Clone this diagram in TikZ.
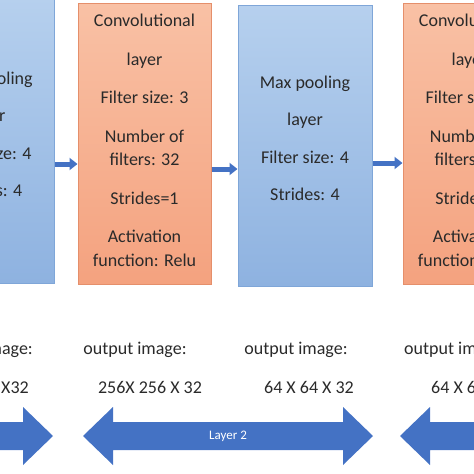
\documentclass[tikz,border=0pt]{standalone}
\usepackage{fontspec}
\setmainfont{Carlito}
\usetikzlibrary{arrows.meta,positioning,calc}
\definecolor{cnInk}     {HTML}{2A2A2A}
\definecolor{cnPoolTop} {HTML}{B6D0EE}
\definecolor{cnPoolBot} {HTML}{8EB2E0}
\definecolor{cnPoolLine}{HTML}{7FA6D8}
\definecolor{cnConvTop} {HTML}{F9C1A5}
\definecolor{cnConvBot} {HTML}{F4A27F}
\definecolor{cnConvLine}{HTML}{E58F6B}
\definecolor{cnArrow}   {HTML}{4472C4}

\begin{document}
\begin{tikzpicture}[x=1pt,y=-1pt,
    poolbox/.style={rectangle,draw=cnPoolLine,line width=1pt,top color=cnPoolTop,
      bottom color=cnPoolBot,minimum width=134pt,minimum height=281pt,inner sep=0},
    convbox/.style={rectangle,draw=cnConvLine,line width=1pt,top color=cnConvTop,
      bottom color=cnConvBot,minimum width=133pt,minimum height=281pt,inner sep=0},
    boxtext/.style={align=center,text=cnInk,inner sep=0,
      font=\fontsize{18}{23.5}\selectfont},
    outtext/.style={text=cnInk,inner sep=0,font=\fontsize{18}{22}\selectfont},
    link/.style={cnArrow,line width=5pt,-{Triangle[length=8pt,width=12pt]}}]
    \useasboundingbox (0,0) rectangle (474,474);
    \clip (0,0) rectangle (474,474);

    % layer boxes
    \node[poolbox,minimum height=285pt] (pool1) at (-12.5,140.5) {};
    \node[convbox] (conv1) at (144.5,143.5) {};
    \node[poolbox] (pool2) at (305,145.5) {};
    \node[convbox] (conv2) at (469.5,143.5) {};

    \node[boxtext,yshift=6pt] (pool1txt) at (pool1)
      {Max pooling\\[14pt] layer\\[14pt] Filter size: 4\\[14pt] Strides: 4};
    \node[boxtext,yshift=3pt] (conv1txt) at (conv1)
      {Convolutional\\[15pt] layer\\[15pt] Filter size: 3\\[15pt] Number of\\
       filters: 32\\[15pt] Strides=1\\[15pt] Activation\\ function: Relu};
    \node[boxtext,yshift=7pt] (pool2txt) at (pool2)
      {Max pooling\\[14pt] layer\\[14pt] Filter size: 4\\[14pt] Strides: 4};
    \node[boxtext,yshift=3pt] (conv2txt) at (conv2)
      {Convolutional\\[15pt] layer\\[15pt] Filter size: 3\\[15pt] Number of\\
       filters: 32\\[15pt] Strides=1\\[15pt] Activation\\ function: Relu};

    % links between the layers
    \draw[link] ([yshift=-23.5pt]pool1.east) -- ([yshift=-23.5pt]pool1.east -| conv1.west);
    \draw[link] ([yshift=-25.5pt]conv1.east) -- ([yshift=-25.5pt]conv1.east -| pool2.west);
    \draw[link] ([yshift=-17.5pt]pool2.east) -- ([yshift=-17.5pt]pool2.east -| conv2.west);

    % output sizes
    \node[outtext,anchor=base east] (out1) at (33,354) {output image:};
    \node[outtext,anchor=base] (out2) at (135,354) {output image:};
    \node[outtext,anchor=base] (out3) at (296,354) {output image:};
    \node[outtext,anchor=base west] (out4) at (404,354) {output image:};
    \node[outtext,anchor=base east] (dim1) at (29,393) {X32};
    \node[outtext,anchor=base] (dim2) at (150,393) {256X 256 X 32};
    \node[outtext,anchor=base] (dim3) at (309,393) {64 X 64 X 32};
    \node[outtext,anchor=base west] (dim4) at (431,393) {64 X 64 X 32};

    % layer spans
    \foreach \xa/\xb in {-237/53,83/373,400/690}
      \fill[cnArrow] (\xa,436) -- (\xa+30,407) -- (\xa+30,422) -- (\xb-30,422)
        -- (\xb-30,407) -- (\xb,436) -- (\xb-30,465) -- (\xb-30,450)
        -- (\xa+30,450) -- (\xa+30,465) -- cycle;
    \node[text=white,font=\fontsize{13}{15}\selectfont] (layer2) at (228,436) {Layer 2};
  \end{tikzpicture}
\end{document}
